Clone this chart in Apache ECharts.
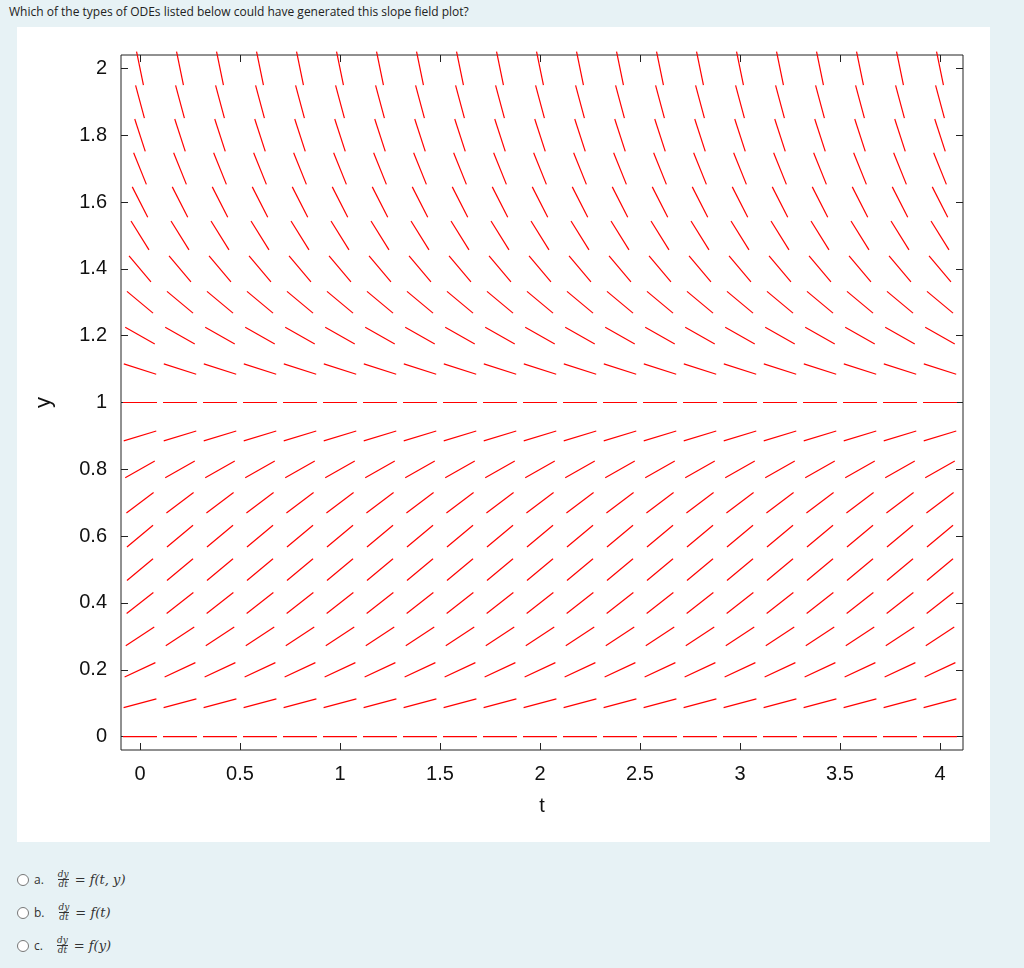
<!DOCTYPE html>
<html><head><meta charset="utf-8">
<script src="https://cdn.jsdelivr.net/npm/echarts@6/dist/echarts.min.js"></script>
<style>
body{margin:0;background:#e7f2f5;font-family:"Open Sans",sans-serif;width:1024px;height:968px;position:relative;overflow:hidden}
#q{position:absolute;left:9px;top:3px;font-size:12px;color:#222}
#panel{position:absolute;left:17px;top:27px;width:973px;height:815px;background:#fff}
#c{width:973px;height:815px}
.opt{position:absolute;left:17px;font-size:12px;color:#333;display:flex;align-items:center}
.rad{width:10px;height:10px;border:1px solid #777;border-radius:50%;background:#fff;margin-right:5px}
.m{font-family:"DejaVu Serif",serif;font-style:italic;font-size:13px;margin-left:14px;display:flex;align-items:center}
.fr{display:inline-flex;flex-direction:column;font-size:9px;line-height:9px;text-align:center;margin-right:6px}
.fr span:first-child{border-bottom:1px solid #333}
</style></head><body>
<div id="q">Which of the types of ODEs listed below could have generated this slope field plot?</div>
<div id="panel"><div id="c"></div></div>
<div class="opt" style="top:870px"><div class="rad"></div>a.<div class="m"><span class="fr"><span>dy</span><span>dt</span></span><span style="font-style:normal">=&nbsp;</span>f(t, y)</div></div>
<div class="opt" style="top:903px"><div class="rad"></div>b.<div class="m"><span class="fr"><span>dy</span><span>dt</span></span><span style="font-style:normal">=&nbsp;</span>f(t)</div></div>
<div class="opt" style="top:936px"><div class="rad"></div>c.<div class="m"><span class="fr"><span>dy</span><span>dt</span></span><span style="font-style:normal">=&nbsp;</span>f(y)</div></div>
<script>
const tValues=[0,0.2,0.4,0.6,0.8,1,1.2,1.4,1.6,1.8,2,2.2,2.4,2.6,2.8,3,3.2,3.4,3.6,3.8,4];
const yValues=[0,0.1,0.2,0.3,0.4,0.5,0.6,0.7,0.8,0.9,1,1.1,1.2,1.3,1.4,1.5,1.6,1.7,1.8,1.9,2];
const rowSlopes=[0,0.16,0.28,0.39,0.47,0.5,0.5,0.45,0.34,0.18,0,-0.19,-0.34,-0.5,-0.71,-0.96,-1.17,-1.48,-1.84,-2.23,-2.9];
const xTicks=[0,0.5,1,1.5,2,2.5,3,3.5,4];
const yTicks=[0,0.2,0.4,0.6,0.8,1,1.2,1.4,1.6,1.8,2];
const data=[];
yValues.forEach((y,i)=>tValues.forEach(t=>data.push([t,y,rowSlopes[i]])));
const ch=echarts.init(document.getElementById('c'));
const lab={fontSize:20,color:'#111',fontFamily:'Liberation Sans'};
const xa=(show,pos)=>({type:'value',min:-0.095,max:4.115,position:pos,
 axisLine:{show:false,onZero:false},splitLine:{show:false},
 axisTick:{show:true,inside:true,length:7,lineStyle:{color:'#222'},customValues:xTicks},
 axisLabel:{show:show,margin:14,...lab,customValues:xTicks,formatter:v=>String(v)},
 name:show?'t':'',nameLocation:'middle',nameGap:46,nameTextStyle:lab});
const ya=(show,pos)=>({type:'value',min:-0.04,max:2.04,position:pos,
 axisLine:{show:false,onZero:false},splitLine:{show:false},
 axisTick:{show:true,inside:true,length:7,lineStyle:{color:'#222'},customValues:yTicks},
 axisLabel:{show:show,margin:14,...lab,customValues:yTicks,formatter:v=>String(v)},
 name:show?'y':'',nameLocation:'middle',nameGap:66,nameRotate:90,nameTextStyle:{...lab,fontSize:22}});
ch.setOption({animation:false,
 grid:{left:104,top:28,right:27,bottom:92,show:true,borderColor:'#222',borderWidth:1},
 xAxis:[xa(true,'bottom'),xa(false,'top')],
 yAxis:[ya(true,'left'),ya(false,'right')],
 series:[{type:'custom',data:data,clip:false,renderItem:(p,api)=>{
   const t=api.value(0),y=api.value(1),s=api.value(2);
   const c=api.coord([t,y]);const c2=api.coord([t+1,y+s]);
   let dx=c2[0]-c[0],dy=c2[1]-c[1];const L=Math.hypot(dx,dy);dx/=L;dy/=L;
   const h=17;
   return {type:'line',shape:{x1:c[0]-dx*h,y1:c[1]-dy*h,x2:c[0]+dx*h,y2:c[1]+dy*h},style:{stroke:'#ff0000',lineWidth:1.2}};
 }}]});
</script></body></html>
